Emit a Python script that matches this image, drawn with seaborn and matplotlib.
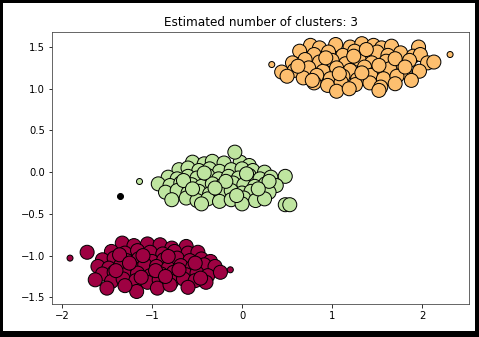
import matplotlib
matplotlib.use("Agg")
import matplotlib.pyplot as plt
import numpy as np
import pandas as pd
import seaborn as sns

# ---- data ----
orange_x = [0.76, 0.86, 1.04, 1.20, 1.33, 1.46, 1.55, 1.66, 1.96,
            0.64, 0.80, 0.96, 1.12, 1.25, 1.40, 1.50, 1.62, 1.76, 1.90, 1.98,
            0.56, 0.70, 0.86, 1.00, 1.15, 1.30, 1.44, 1.60, 1.74, 1.86, 2.06, 2.13,
            0.44, 0.58, 0.74, 0.90, 1.05, 1.20, 1.36, 1.50, 1.64, 1.80, 1.97,
            0.50, 0.68, 0.83, 0.98, 1.12, 1.28, 1.43, 1.57, 1.72, 1.88,
            0.80, 0.95, 1.10, 1.26, 1.42, 1.54, 1.70,
            1.05, 1.19, 1.52,
            0.93, 1.38, 1.70, 0.62, 1.08, 1.52, 0.78, 1.33, 1.81, 1.24]
orange_y = [1.52, 1.49, 1.53, 1.50, 1.54, 1.52, 1.49, 1.51, 1.50,
            1.45, 1.41, 1.44, 1.40, 1.45, 1.41, 1.44, 1.40, 1.43, 1.39, 1.41,
            1.31, 1.35, 1.32, 1.34, 1.30, 1.35, 1.31, 1.33, 1.29, 1.34, 1.31, 1.32,
            1.20, 1.22, 1.25, 1.21, 1.25, 1.22, 1.26, 1.21, 1.24, 1.20, 1.21,
            1.15, 1.13, 1.16, 1.12, 1.15, 1.11, 1.16, 1.12, 1.15, 1.10,
            1.07, 1.04, 1.08, 1.05, 1.07, 1.02, 1.06,
            0.97, 1.00, 0.98,
            1.37, 1.47, 1.36, 1.27, 1.18, 1.28, 1.10, 1.19, 1.26, 1.39]
orange_edge_x = [0.33, 2.31]
orange_edge_y = [1.29, 1.41]

green_x = [-0.55, -0.42, -0.33, -0.20, -0.02, 0.08,
           -0.70, -0.60, -0.48, -0.36, -0.25, -0.12, 0.00, 0.12, 0.25,
           -0.82, -0.72, -0.60, -0.50, -0.38, -0.26, -0.15, -0.04, 0.08, 0.20, 0.32, 0.48,
           -0.93, -0.80, -0.68, -0.56, -0.45, -0.33, -0.22, -0.10, 0.02, 0.14, 0.26, 0.38,
           -0.85, -0.72, -0.60, -0.48, -0.36, -0.24, -0.12, 0.00, 0.10, 0.22, 0.30,
           -0.78, -0.62, -0.50, -0.38, -0.25, -0.12, 0.02, 0.15, 0.25,
           -0.45, 0.00, 0.48, 0.53, -0.08,
           -0.65, -0.42, -0.18, 0.05, 0.30, -0.55, -0.30, -0.06, 0.18]
green_y = [0.12, 0.10, 0.13, 0.11, 0.12, 0.08,
           0.03, 0.05, 0.02, 0.04, 0.01, 0.03, 0.04, 0.02, 0.00,
           -0.06, -0.08, -0.05, -0.07, -0.04, -0.08, -0.05, -0.07, -0.04, -0.08, -0.06, -0.05,
           -0.14, -0.16, -0.13, -0.15, -0.17, -0.14, -0.16, -0.13, -0.15, -0.17, -0.14, -0.16,
           -0.24, -0.22, -0.25, -0.23, -0.26, -0.24, -0.22, -0.25, -0.23, -0.26, -0.24,
           -0.33, -0.31, -0.34, -0.32, -0.35, -0.33, -0.31, -0.34, -0.32,
           -0.38, -0.38, -0.39, -0.39, 0.24,
           -0.10, -0.01, -0.11, -0.02, -0.11, -0.20, -0.19, -0.28, -0.20]
green_edge_x = [-1.14]
green_edge_y = [-0.10]

red_x = [-1.33, -1.20, -1.05, -0.91, -0.78, -0.62,
         -1.72, -1.45, -1.30, -1.16, -1.02, -0.88, -0.75, -0.60, -0.49,
         -1.55, -1.42, -1.28, -1.15, -1.00, -0.87, -0.72, -0.58, -0.45, -0.35,
         -1.60, -1.48, -1.35, -1.22, -1.08, -0.95, -0.82, -0.68, -0.55, -0.42, -0.30,
         -1.55, -1.42, -1.30, -1.16, -1.02, -0.90, -0.76, -0.62, -0.50, -0.38, -0.24,
         -1.63, -1.45, -1.32, -1.18, -1.05, -0.92, -0.78, -0.65, -0.52, -0.40,
         -1.50, -1.17, -0.94, -0.60, -1.30, -0.80,
         -1.36, -1.10, -0.82, -0.52, -1.25, -0.96, -0.70, -1.40, -1.12, -0.85, -0.46]
red_y = [-0.85, -0.88, -0.86, -0.87, -0.91, -0.89,
         -0.96, -0.95, -0.97, -0.94, -0.96, -0.98, -0.95, -0.97, -0.96,
         -1.05, -1.03, -1.06, -1.04, -1.07, -1.05, -1.03, -1.06, -1.04, -1.07,
         -1.13, -1.15, -1.12, -1.14, -1.11, -1.13, -1.15, -1.12, -1.14, -1.11, -1.13,
         -1.22, -1.20, -1.23, -1.21, -1.24, -1.22, -1.20, -1.23, -1.21, -1.24, -1.20,
         -1.29, -1.31, -1.28, -1.30, -1.32, -1.29, -1.31, -1.28, -1.30, -1.32,
         -1.39, -1.43, -1.39, -1.38, -1.36, -1.35,
         -0.99, -1.00, -1.01, -1.09, -1.09, -1.18, -1.17, -1.18, -1.26, -1.25, -1.27]
red_edge_x = [-1.91, -0.13]
red_edge_y = [-1.03, -1.17]

noise_x = [-1.36]
noise_y = [-0.28]

cluster_names = ["0", "1", "2", "-1"]

# ---- build table ----
rows = []
for name, xs, ys, core in [("0", red_x, red_y, True), ("0", red_edge_x, red_edge_y, False),
                           ("1", orange_x, orange_y, True), ("1", orange_edge_x, orange_edge_y, False),
                           ("2", green_x, green_y, True), ("2", green_edge_x, green_edge_y, False),
                           ("-1", noise_x, noise_y, False)]:
    for x, y in zip(xs, ys):
        rows.append({"x": x, "y": y, "cluster": name, "core": core})
df = pd.DataFrame(rows)

cmap = plt.cm.Spectral
cols = [cmap(v) for v in np.linspace(0, 1, 4)]
palette = {"0": cols[0], "1": cols[1], "2": cols[2], "-1": (0, 0, 0, 1)}

W, H, DPI = 479, 337, 72
fig = plt.figure(figsize=(W / DPI, H / DPI), dpi=DPI, facecolor="black")
bg = plt.Rectangle((3 / W, 6 / H), 472 / W, 328 / H, transform=fig.transFigure,
                   facecolor="white", edgecolor="none", zorder=-10)
fig.patches.append(bg)
ax = fig.add_axes([52 / W, 1 - 304 / H, 417 / W, 272 / H])
ax.set_zorder(5)

for name in cluster_names:
    sub = df[df.cluster == name]
    core = sub[sub.core]
    edge = sub[~sub.core]
    if len(core):
        sns.scatterplot(data=core, x="x", y="y", hue="cluster", palette=palette, s=196,
                        edgecolor="k", linewidth=1.0, legend=False, ax=ax, alpha=1)
    if len(edge):
        sns.scatterplot(data=edge, x="x", y="y", hue="cluster", palette=palette, s=36,
                        edgecolor="k", linewidth=1.0, legend=False, ax=ax, alpha=1)

ax.set_xlim(-2.11, 2.52)
ax.set_ylim(-1.58, 1.68)
ax.set_xticks([-2, -1, 0, 1, 2])
ax.set_yticks([-1.5, -1.0, -0.5, 0.0, 0.5, 1.0, 1.5])
ax.set_xlabel("")
ax.set_ylabel("")
ax.set_title("Estimated number of clusters: 3", fontsize=12)
for sp in ax.spines.values():
    sp.set_color("#444444")

fig.savefig("out.png", dpi=DPI, facecolor=fig.get_facecolor())
